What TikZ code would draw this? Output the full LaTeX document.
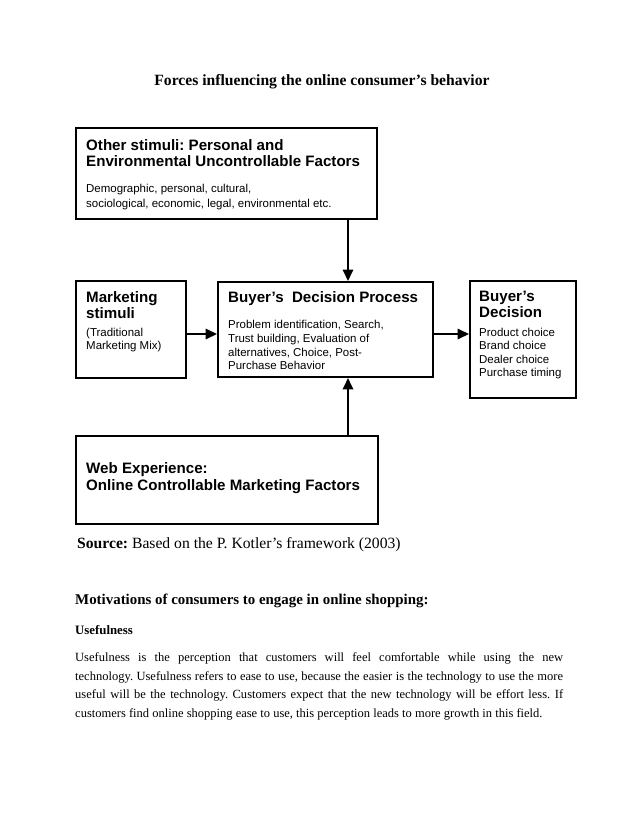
\documentclass[tikz,border=0pt]{standalone}
\usepackage{fontspec}
\setmainfont{Liberation Serif}
\setsansfont{Liberation Sans}
\usepackage{tikz}
\usetikzlibrary{arrows.meta,fit,positioning}
\frenchspacing
\tikzset{box/.style={draw,line width=1.9pt,inner sep=0pt},
  head/.style={inner sep=0pt,align=left,font=\sffamily\bfseries\fontsize{14.5}{15.6}\selectfont},
  sub/.style={inner sep=0pt,align=left,font=\sffamily\fontsize{11}{12.9}\selectfont},
  link/.style={line width=1.8pt,-{Triangle[length=11pt,width=10pt]}},
  plain/.style={inner sep=0pt}}

\begin{document}
\begin{tikzpicture}[x=0.9592pt,y=-0.9592pt]
    \useasboundingbox (0,0) rectangle (638,826);
    \node[plain,anchor=base,font=\bfseries\fontsize{15}{18}\selectfont] (title) at (322,85) {Forces influencing the online consumer’s behavior};

    % boxes
    \node[box,fit={(76,128) (377,219)}] (other) {};
    \node[box,fit={(76,281) (186,378)}] (mkt) {};
    \node[box,fit={(218,282) (433,377)}] (proc) {};
    \node[box,fit={(470,281) (576,398)}] (dec) {};
    \node[box,fit={(76,436) (378,524)}] (web) {};

    % texts in boxes
    \node[head,anchor=north west,font=\sffamily\bfseries\fontsize{14.5}{15.3}\selectfont] (othert) at (86,139.6) {Other stimuli: Personal and\\Environmental Uncontrollable Factors};
    \node[sub,anchor=north west,font=\sffamily\fontsize{11}{14.4}\selectfont] (others) at (86,184.3) {Demographic, personal, cultural,\\sociological, economic, legal, environmental etc.};
    \node[head,anchor=north west] (mktt) at (86,291) {Marketing\\stimuli};
    \node[sub,anchor=north west] (mkts) at (86,327.5) {(Traditional\\Marketing Mix)};
    \node[head,anchor=north west] (proct) at (228,291) {Buyer’s\ \ Decision Process};
    \node[sub,anchor=north west,font=\sffamily\fontsize{11}{13.1}\selectfont] (procs) at (228,320.3) {Problem identification, Search,\\Trust building, Evaluation of\\alternatives, Choice, Post-\\Purchase Behavior};
    \node[head,anchor=north west] (dect) at (479,291) {Buyer’s\\Decision};
    \node[sub,anchor=north west] (decs) at (479,327.6) {Product choice\\Brand choice\\Dealer choice\\Purchase timing};
    \node[head,anchor=north west] (webt) at (86,462.6) {Web Experience:\\Online Controllable Marketing Factors};

    % arrows
    \coordinate (ax) at (348,334);
    \draw[link] (other.south -| ax) -- (proc.north -| ax);
    \draw[link] (web.north -| ax) -- (proc.south -| ax);
    \draw[link] (mkt.east |- ax) -- (proc.west |- ax);
    \draw[link] (proc.east |- ax) -- (dec.west |- ax);

    % text below
    \node[plain,anchor=base west,font=\fontsize{15}{18}\selectfont] (src) at (77,548) {\textbf{Source:} Based on the P. Kotler’s framework (2003)};
    \node[plain,anchor=base west,font=\bfseries\fontsize{14.3}{17}\selectfont] (motiv) at (75,604) {Motivations of consumers to engage in online shopping:};
    \node[plain,anchor=base west,font=\bfseries\fontsize{12.3}{14}\selectfont] (usef) at (75,634) {Usefulness};
    \node[plain,anchor=north west,text width=468pt,align=justify,font=\fontsize{12}{17.9}\selectfont] (para) at (75,652.5) {Usefulness is the perception that customers will feel comfortable while using the new\linebreak technology. Usefulness refers to ease to use, because the easier is the technology to use the more\linebreak useful will be the technology. Customers expect that the new technology will be effort less. If\linebreak customers find online shopping ease to use, this perception leads to more growth in this field.};
\end{tikzpicture}
\end{document}
